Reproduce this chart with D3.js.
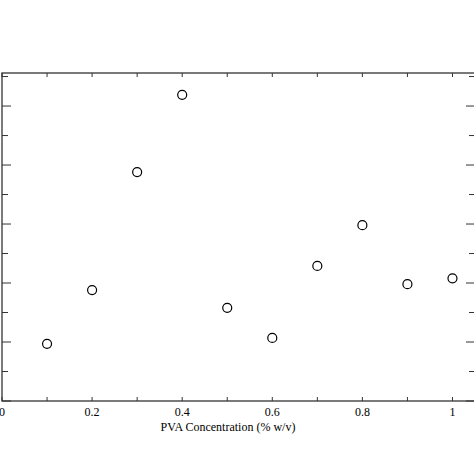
<!DOCTYPE html><html><head><script src="https://cdn.jsdelivr.net/npm/d3@7"></script>
<style>body{margin:0;background:#fff}</style></head><body><svg id="c" width="474" height="474"></svg>
<script>
const xs=[0.1,0.2,0.3,0.4,0.5,0.6,0.7,0.8,0.9,1.0];
const ys=[0.97,1.88,3.88,5.19,1.58,1.07,2.29,2.98,1.98,2.08];
const xTickLabels=["0","0.2","0.4","0.6","0.8","1"];
const svg=d3.select("#c");
const x=d3.scaleLinear().domain([0,1.05]).range([2,475]);
const y=d3.scaleLinear().domain([0,5.56]).range([401,73]);
const f="'Liberation Serif','Times New Roman',serif";
svg.append("rect").attr("x",x(0)).attr("y",y(5.56)).attr("width",x(1.05)-x(0)).attr("height",y(0)-y(5.56)).attr("fill","none").attr("stroke","#333").attr("stroke-width",1.3);
const xt=d3.range(0,11).map(i=>i/10);
xt.forEach((v,i)=>{const L=4;
 svg.append("line").attr("x1",x(v)).attr("x2",x(v)).attr("y1",y(0)).attr("y2",y(0)-L).attr("stroke","#333");
 svg.append("line").attr("x1",x(v)).attr("x2",x(v)).attr("y1",y(5.56)).attr("y2",y(5.56)+L).attr("stroke","#333");});
xTickLabels.forEach((t,i)=>svg.append("text").attr("x",x(i*0.2)).attr("y",416).attr("text-anchor","middle").attr("font-family",f).attr("font-size",12).text(t));
d3.range(0,12).map(i=>i/2).filter(v=>v<5.56).forEach(v=>{const L=Number.isInteger(v)?9:6;
 svg.append("line").attr("x1",x(0)).attr("x2",x(0)+L).attr("y1",y(v)).attr("y2",y(v)).attr("stroke","#333");
 svg.append("line").attr("x1",x(1.05)).attr("x2",x(1.05)-L).attr("y1",y(v)).attr("y2",y(v)).attr("stroke","#333");});
svg.selectAll("circle").data(xs).join("circle").attr("cx",d=>x(d)).attr("cy",(d,i)=>y(ys[i])).attr("r",4.5).attr("fill","none").attr("stroke","#000").attr("stroke-width",1.2);
svg.append("text").attr("x",228).attr("y",431).attr("text-anchor","middle").attr("font-family",f).attr("font-size",12).text("PVA Concentration (% w/v)");
</script></body></html>
